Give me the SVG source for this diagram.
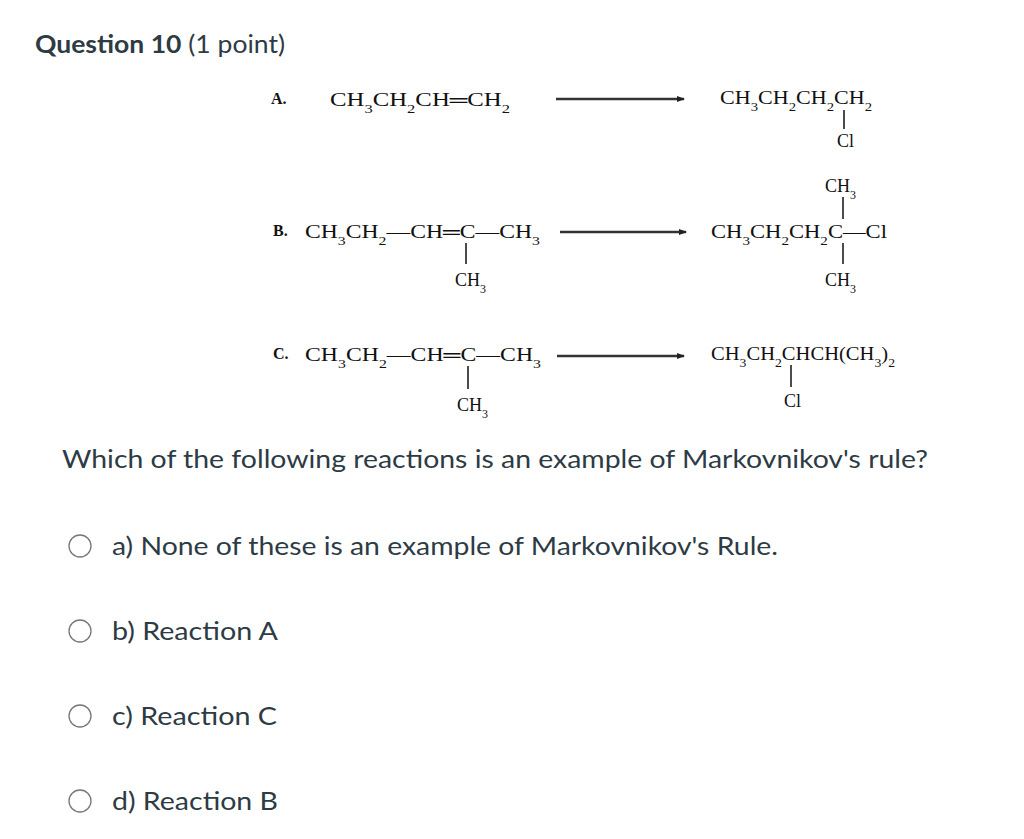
<svg xmlns="http://www.w3.org/2000/svg" width="1024" height="839" viewBox="0 0 1024 839">
<style>
.q{font-family:Lato,"Liberation Sans",sans-serif;fill:#2d3b45;font-size:25px}
.c{font-family:"Liberation Serif",serif;font-size:18px;fill:#111}
.s{font-size:12px;baseline-shift:sub}
.l{font-family:"Liberation Serif",serif;font-size:16px;font-weight:bold;fill:#111}
.b{stroke:#111;stroke-width:1.5;fill:none}
.a{stroke:#333;stroke-width:2.5;fill:none}
.o{fill:#fff;stroke:#777;stroke-width:1.3}
</style>
<defs><marker id="ah" markerWidth="8" markerHeight="6" refX="7" refY="3" orient="auto" markerUnits="userSpaceOnUse"><path d="M0,0L8,3L0,6z" fill="#222"/></marker></defs>
<rect width="1024" height="839" fill="#fff"/>
<text class="q" x="35" y="53" textLength="250" lengthAdjust="spacingAndGlyphs"><tspan font-weight="bold">Question 10</tspan> (1 point)</text>
<g id="reactionA">
<text class="l" x="271" y="104">A.</text>
<text class="c" x="330" y="106" textLength="180" lengthAdjust="spacingAndGlyphs">CH<tspan class="s">3</tspan>CH<tspan class="s">2</tspan>CH═CH<tspan class="s">2</tspan></text>
<text class="c" x="720" y="104" textLength="152" lengthAdjust="spacingAndGlyphs">CH<tspan class="s">3</tspan>CH<tspan class="s">2</tspan>CH<tspan class="s">2</tspan>CH<tspan class="s">2</tspan></text>
<line class="b" x1="844" y1="110" x2="844" y2="129"/>
<text class="c" x="837" y="147">Cl</text>
</g>
<g id="reactionB">
<text class="l" x="273" y="236">B.</text>
<text class="c" x="305" y="238" textLength="235" lengthAdjust="spacingAndGlyphs">CH<tspan class="s">3</tspan>CH<tspan class="s">2</tspan>—CH═C—CH<tspan class="s">3</tspan></text>
<line class="b" x1="466" y1="243" x2="466" y2="264"/>
<text class="c" x="455" y="286">CH<tspan class="s">3</tspan></text>
<text class="c" x="825" y="192">CH<tspan class="s">3</tspan></text>
<line class="b" x1="843" y1="197" x2="843" y2="219"/>
<text class="c" x="711" y="238" textLength="176" lengthAdjust="spacingAndGlyphs">CH<tspan class="s">3</tspan>CH<tspan class="s">2</tspan>CH<tspan class="s">2</tspan>C—Cl</text>
<line class="b" x1="843" y1="243" x2="843" y2="264"/>
<text class="c" x="825" y="286">CH<tspan class="s">3</tspan></text>
</g>
<g id="reactionC">
<text class="l" x="273" y="359">C.</text>
<text class="c" x="305" y="361" textLength="236" lengthAdjust="spacingAndGlyphs">CH<tspan class="s">3</tspan>CH<tspan class="s">2</tspan>—CH═C—CH<tspan class="s">3</tspan></text>
<line class="b" x1="468" y1="366" x2="468" y2="389"/>
<text class="c" x="457" y="411">CH<tspan class="s">3</tspan></text>
<text class="c" x="711" y="360" textLength="184" lengthAdjust="spacingAndGlyphs">CH<tspan class="s">3</tspan>CH<tspan class="s">2</tspan>CHCH(CH<tspan class="s">3</tspan>)<tspan class="s">2</tspan></text>
<line class="b" x1="791" y1="365" x2="791" y2="387"/>
<text class="c" x="784" y="407">Cl</text>
</g>
<g id="connectors">
<line class="a" x1="556" y1="99" x2="684" y2="99" marker-end="url(#ah)"/>
<line class="a" x1="560" y1="232" x2="686" y2="232" marker-end="url(#ah)"/>
<line class="a" x1="557" y1="356" x2="684" y2="356" marker-end="url(#ah)"/>
</g>
<text class="q" x="62" y="468" textLength="866" lengthAdjust="spacingAndGlyphs">Which of the following reactions is an example of Markovnikov's rule?</text>
<g id="optA"><circle class="o" cx="80" cy="546" r="11"/><text class="q" x="112" y="555" textLength="666" lengthAdjust="spacingAndGlyphs">a) None of these is an example of Markovnikov's Rule.</text></g>
<g id="optB"><circle class="o" cx="80" cy="631" r="11"/><text class="q" x="112" y="640" textLength="166" lengthAdjust="spacingAndGlyphs">b) Reaction A</text></g>
<g id="optC"><circle class="o" cx="80" cy="716" r="11"/><text class="q" x="112" y="725" textLength="165" lengthAdjust="spacingAndGlyphs">c) Reaction C</text></g>
<g id="optD"><circle class="o" cx="80" cy="801" r="11"/><text class="q" x="112" y="810" textLength="166" lengthAdjust="spacingAndGlyphs">d) Reaction B</text></g>
</svg>
